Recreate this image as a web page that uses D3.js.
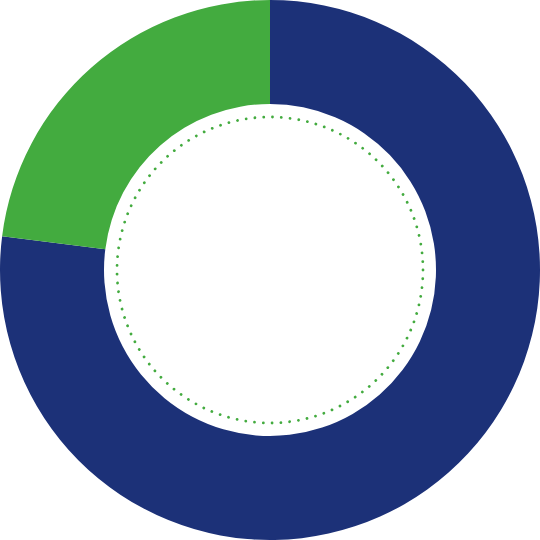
<!DOCTYPE html>
<html>
<head>
<meta charset="utf-8">
<script src="https://cdn.jsdelivr.net/npm/d3@7"></script>
<style>
  html, body { margin: 0; padding: 0; background: #fff; }
  #chart { width: 540px; height: 540px; }
</style>
</head>
<body>
<div id="chart"></div>
<script>
// 数据：两段占比（顺时针从正上方开始）
const labels = ["blue", "green"];
const values = [77, 23];
const colors = ["#1c3178", "#43ab3f"];

const W = 540, H = 540;
const outerR = 270, innerR = 166, dotR = 153;

const svg = d3.select("#chart").append("svg").attr("width", W).attr("height", H);
const g = svg.append("g").attr("transform", `translate(${W / 2},${H / 2})`);

const pie = d3.pie().sort(null).value((d) => d)(values);
const arc = d3.arc().innerRadius(innerR).outerRadius(outerR);

g.selectAll("path.slice").data(pie).join("path").attr("class", "slice")
  .attr("d", arc).attr("fill", (d, i) => colors[i]);

// 内圈点线
const circ = 2 * Math.PI * dotR, nDots = 109;
g.append("circle").attr("r", dotR).attr("fill", "none")
  .attr("stroke", colors[1]).attr("stroke-width", 2.8)
  .attr("stroke-linecap", "round").attr("stroke-dasharray", `0.01 ${circ / nDots - 0.01}`);
</script>
</body>
</html>
